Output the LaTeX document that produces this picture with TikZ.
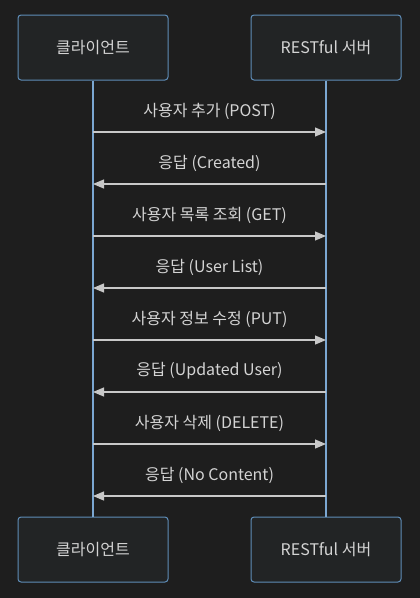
\documentclass[tikz,border=0pt]{standalone}
\usepackage{fontspec}
\setmainfont{Noto Sans CJK KR}
\usetikzlibrary{arrows.meta}
\definecolor{bg}{HTML}{1E1E1E}
\definecolor{boxfill}{HTML}{222425}
\definecolor{boxline}{HTML}{5F8DB8}
\definecolor{lifeblue}{HTML}{7BA7D2}
\definecolor{msggray}{HTML}{C8C8C8}
\definecolor{fg}{HTML}{D4D4D4}
\tikzstyle{actor} = [rectangle, rounded corners=3pt, text centered, draw=boxline, fill=boxfill, text=fg, line width=1pt, minimum width=150pt, minimum height=65pt]
\tikzstyle{lifeline} = [lifeblue, line width=1.2pt]
\tikzstyle{message} = [msggray, line width=1.2pt, -{Triangle[length=11pt, width=9pt]}]
\tikzstyle{msg_label} = [text=fg, midway, yshift=21pt]

\begin{document}
\begin{tikzpicture}[x=1pt, y=-1pt, font=\fontsize{16}{19}\selectfont]

    \fill [bg] (0,0) rectangle (420,598);

    \node (client_top) [actor] at (93,47.5) {클라이언트};
    \node (server_top) [actor] at (326,47.5) {RESTful 서버};
    \node (client_bottom) [actor] at (93,549.5) {클라이언트};
    \node (server_bottom) [actor] at (326,549.5) {RESTful 서버};

    \draw [lifeline] (client_top) -- (client_bottom);
    \draw [lifeline] (server_top) -- (server_bottom);

    \foreach \y [count=\i] in {132,184,236,288,340,392,444,496} {
        \coordinate (c\i) at (93,\y);
        \coordinate (s\i) at (326,\y);
    }

    \draw [message] (c1) -- node [msg_label] {사용자 추가 (POST)} (s1);
    \draw [message] (s2) -- node [msg_label] {응답 (Created)} (c2);
    \draw [message] (c3) -- node [msg_label] {사용자 목록 조회 (GET)} (s3);
    \draw [message] (s4) -- node [msg_label] {응답 (User List)} (c4);
    \draw [message] (c5) -- node [msg_label] {사용자 정보 수정 (PUT)} (s5);
    \draw [message] (s6) -- node [msg_label] {응답 (Updated User)} (c6);
    \draw [message] (c7) -- node [msg_label] {사용자 삭제 (DELETE)} (s7);
    \draw [message] (s8) -- node [msg_label] {응답 (No Content)} (c8);

\end{tikzpicture}
\end{document}
